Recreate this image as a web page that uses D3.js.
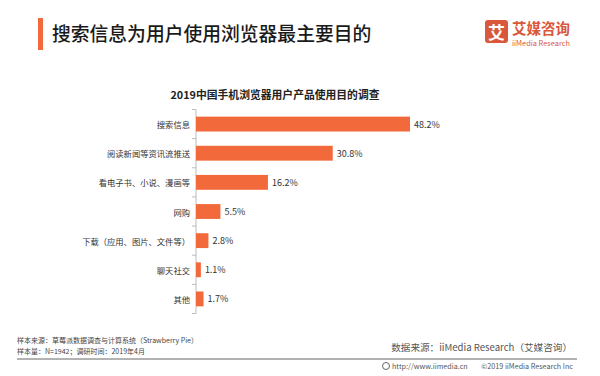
<!DOCTYPE html>
<html>
<head>
<meta charset="utf-8">
<script src="https://cdn.jsdelivr.net/npm/d3@7"></script>
<style>
  body { margin: 0; background: #fff; }
  text { font-family: "Noto Sans CJK SC", "Noto Sans", sans-serif; }
</style>
</head>
<body>
<div id="chart"></div>
<script>
const categories = ["搜索信息", "阅读新闻等资讯流推送", "看电子书、小说、漫画等", "网购", "下载（应用、图片、文件等）", "聊天社交", "其他"];
const values = [48.2, 30.8, 16.2, 5.5, 2.8, 1.1, 1.7];

const width = 600, height = 376;
const orange = '#f26a3b';

const svg = d3.select('#chart')
    .append('svg')
    .attr('width', width)
    .attr('height', height);

svg.append('rect').attr('width', width).attr('height', height).attr('fill', '#fff');

// header
svg.append('rect')
    .attr('x', 38).attr('y', 18)
    .attr('width', 5).attr('height', 32)
    .attr('fill', orange);
svg.append('text')
    .attr('x', 52).attr('y', 32)
    .attr('dominant-baseline', 'central')
    .attr('font-size', 18.8)
    .attr('font-weight', 500)
    .attr('fill', '#1a1a1a')
    .text('搜索信息为用户使用浏览器最主要目的');

// logo
const logo = svg.append('g');
logo.append('rect')
    .attr('x', 485).attr('y', 20)
    .attr('width', 23).attr('height', 23)
    .attr('rx', 3)
    .attr('fill', '#d9573b');
logo.append('text')
    .attr('x', 496.5).attr('y', 31.5)
    .attr('text-anchor', 'middle')
    .attr('dominant-baseline', 'central')
    .attr('font-size', 17)
    .attr('font-weight', 700)
    .attr('fill', '#fff')
    .text('艾');
logo.append('text')
    .attr('x', 512).attr('y', 27)
    .attr('dominant-baseline', 'central')
    .attr('font-size', 14.5)
    .attr('font-weight', 700)
    .attr('fill', '#d9573b')
    .text('艾媒咨询');
logo.append('text')
    .attr('x', 512).attr('y', 42.5)
    .attr('dominant-baseline', 'central')
    .attr('font-size', 7.4)
    .attr('fill', '#d9573b')
    .text('iiMedia Research');

// chart title
svg.append('text')
    .attr('x', 275).attr('y', 94)
    .attr('text-anchor', 'middle')
    .attr('dominant-baseline', 'central')
    .attr('font-size', 10.8)
    .attr('font-weight', 700)
    .attr('fill', '#222')
    .text('2019中国手机浏览器用户产品使用目的调查');

// scales
const x = d3.scaleLinear().domain([0, 50]).range([196, 418]);
const y = d3.scaleBand().domain(categories).range([109.5, 313.5]).paddingInner(0.49).paddingOuter(0.245);

// axis
const axis = svg.append('g')
    .attr('transform', `translate(${x(0)},0)`);
axis.append('line')
    .attr('y1', y.range()[0]).attr('y2', y.range()[1])
    .attr('stroke', '#bbb');
const step = y.step();
const bounds = d3.range(categories.length + 1).map(i => y.range()[0] + i * step);
axis.selectAll('.tick')
    .data(bounds)
    .enter()
    .append('line')
    .attr('x1', -4).attr('x2', 0)
    .attr('y1', d => d).attr('y2', d => d)
    .attr('stroke', '#bbb');

axis.selectAll('.lab')
    .data(categories)
    .enter()
    .append('text')
    .attr('x', -6)
    .attr('y', d => y(d) + y.bandwidth() / 2)
    .attr('text-anchor', 'end')
    .attr('dominant-baseline', 'central')
    .attr('font-size', 8.3)
    .attr('fill', '#333')
    .text(d => d);

// bars
svg.selectAll('.bar')
    .data(values)
    .enter()
    .append('rect')
    .attr('x', x(0))
    .attr('y', (d, i) => y(categories[i]))
    .attr('width', d => x(d) - x(0))
    .attr('height', y.bandwidth())
    .attr('fill', orange);

svg.selectAll('.val')
    .data(values)
    .enter()
    .append('text')
    .attr('x', d => x(d) + 4)
    .attr('y', (d, i) => y(categories[i]) + y.bandwidth() / 2)
    .attr('dominant-baseline', 'central')
    .attr('font-size', 9)
    .attr('fill', '#333')
    .text(d => d.toFixed(1) + '%');

// footer
svg.append('text')
    .attr('x', 17).attr('y', 340)
    .attr('dominant-baseline', 'central')
    .attr('font-size', 7)
    .attr('fill', '#444')
    .text('样本来源：草莓派数据调查与计算系统（Strawberry Pie）');
svg.append('text')
    .attr('x', 17).attr('y', 351)
    .attr('dominant-baseline', 'central')
    .attr('font-size', 7)
    .attr('fill', '#444')
    .text('样本量：N=1942；调研时间：2019年4月');
svg.append('line')
    .attr('x1', 17).attr('x2', 577)
    .attr('y1', 359).attr('y2', 359)
    .attr('stroke', '#666')
    .attr('stroke-width', 1);
svg.append('text')
    .attr('x', 572).attr('y', 347)
    .attr('text-anchor', 'end')
    .attr('dominant-baseline', 'central')
    .attr('font-size', 9.6)
    .attr('fill', '#555')
    .text('数据来源：iiMedia Research（艾媒咨询）');
svg.append('circle')
    .attr('cx', 386).attr('cy', 366).attr('r', 3.5)
    .attr('fill', 'none').attr('stroke', '#666');
svg.append('text')
    .attr('x', 392).attr('y', 366)
    .attr('dominant-baseline', 'central')
    .attr('font-size', 7.2)
    .attr('fill', '#555')
    .text('http://www.iimedia.cn');
svg.append('text')
    .attr('x', 573).attr('y', 366)
    .attr('text-anchor', 'end')
    .attr('dominant-baseline', 'central')
    .attr('font-size', 7.2)
    .attr('fill', '#555')
    .text('©2019 iiMedia Research Inc');
</script>
</body>
</html>
